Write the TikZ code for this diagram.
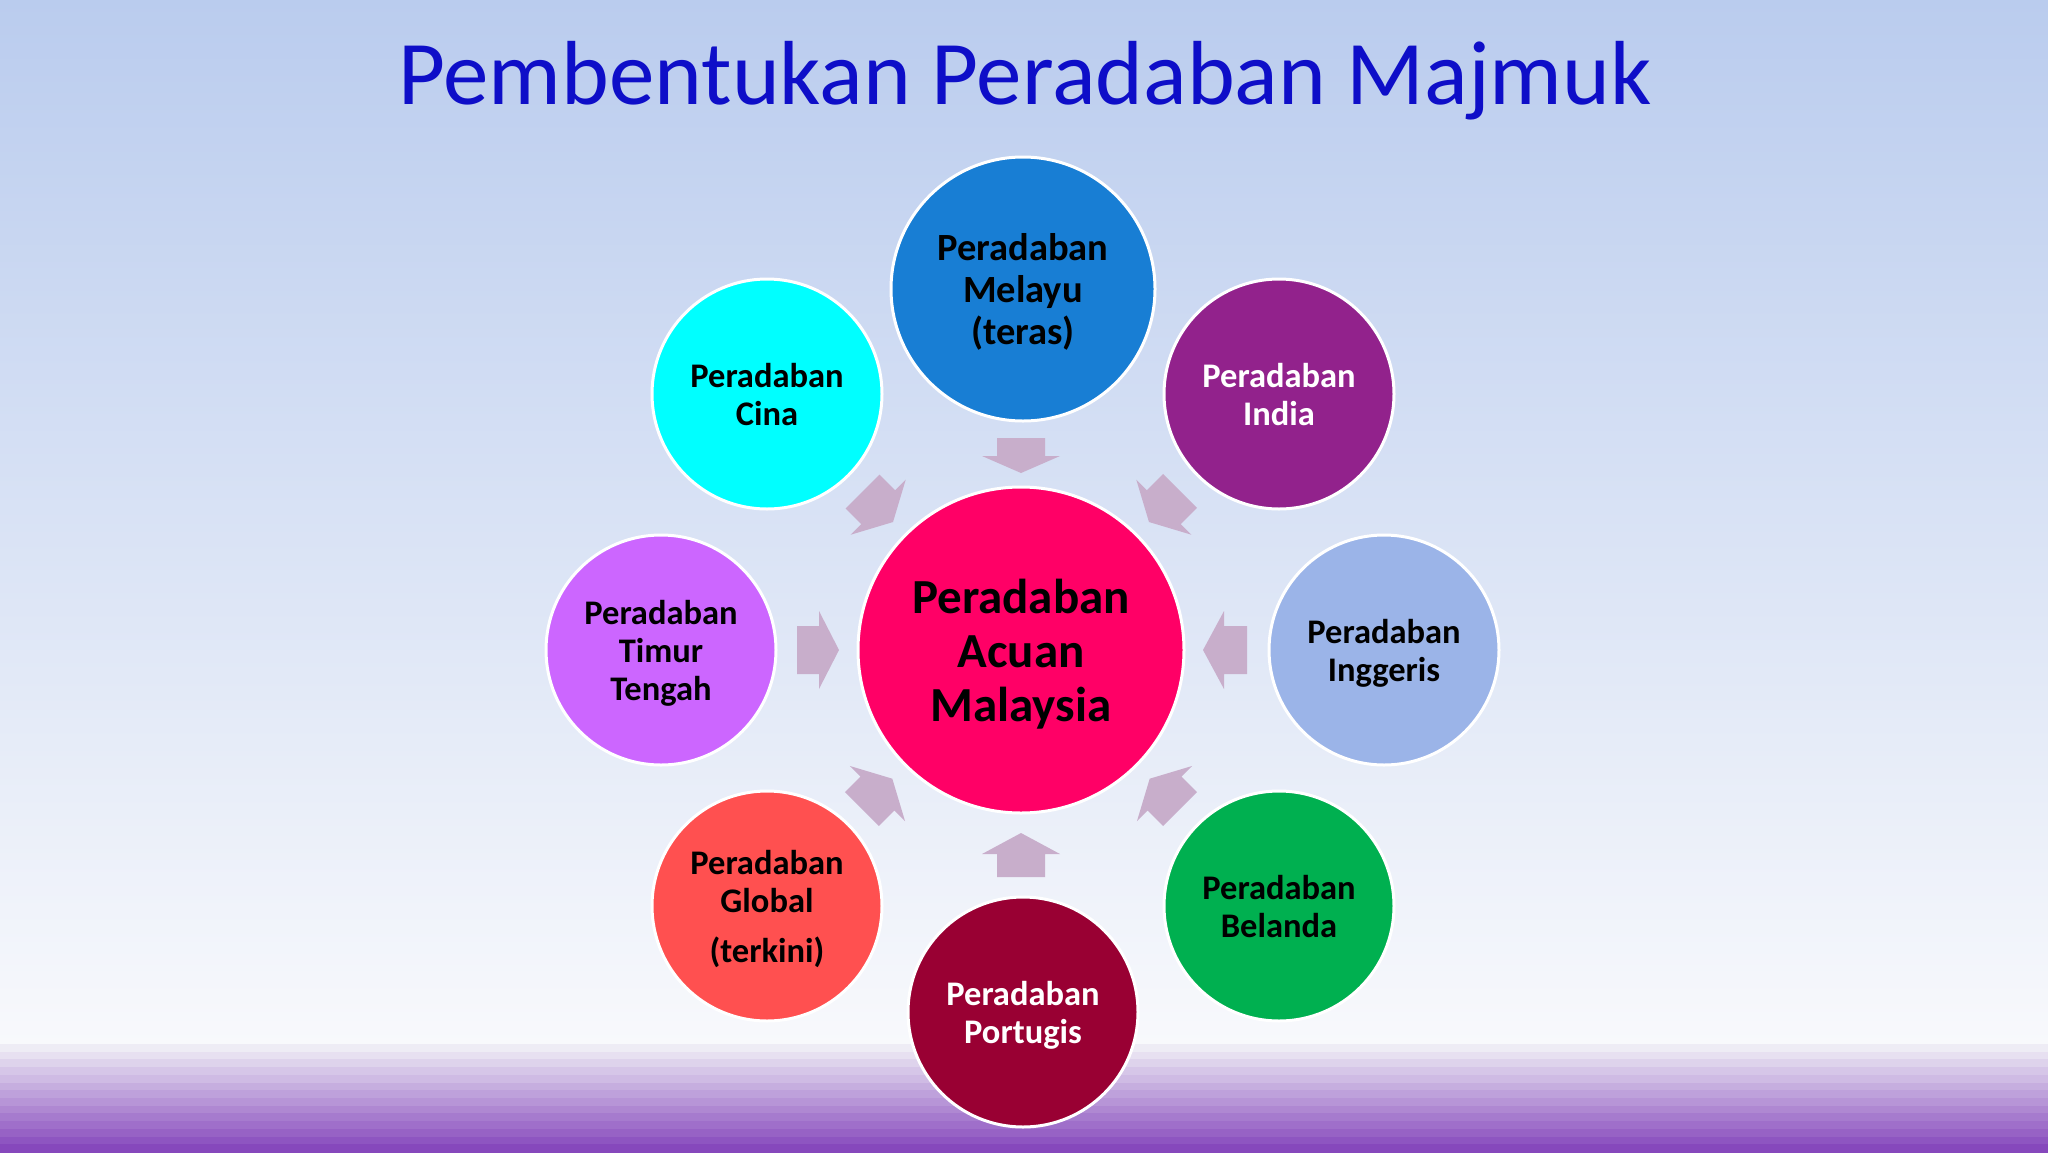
\documentclass[tikz,border=0pt]{standalone}
\usepackage{fontspec}
\setmainfont{Carlito}
\definecolor{bgtop}{RGB}{186,204,238}
\definecolor{bgmid}{RGB}{222,228,246}
\definecolor{bgbot}{RGB}{248,249,252}
\definecolor{bandstart}{RGB}{238,236,245}
\definecolor{bandend}{RGB}{134,72,188}
\definecolor{titleblue}{RGB}{14,14,200}
\definecolor{arrowcol}{RGB}{200,174,203}
\definecolor{cMelayu}{RGB}{24,126,212}
\definecolor{cCina}{RGB}{0,255,255}
\definecolor{cIndia}{RGB}{146,34,140}
\definecolor{cTimur}{RGB}{204,102,255}
\definecolor{cInggeris}{RGB}{155,180,232}
\definecolor{cGlobal}{RGB}{255,80,80}
\definecolor{cBelanda}{RGB}{0,176,80}
\definecolor{cPortugis}{RGB}{153,0,51}
\definecolor{cCenter}{RGB}{255,0,102}
\newcommand\lastline[1]{\raisebox{0pt}[\height][0pt]{#1}}
\tikzset{
  ring/.style={circle, draw=white, line width=3pt, minimum size=230pt, inner sep=0pt, align=center,
    font=\bfseries\fontsize{34.5}{38}\selectfont},
  bigring/.style={ring, minimum size=264pt, font=\bfseries\fontsize{38.5}{42}\selectfont},
  hub/.style={ring, minimum size=326pt, font=\bfseries\fontsize{49}{54}\selectfont},
  blockarrow/.style={fill=arrowcol, draw=none}
}
\begin{document}
\begin{tikzpicture}[x=1pt,y=-1pt]
\useasboundingbox (0,0) rectangle (2048,1152);
% background
\shade[top color=bgtop, middle color=bgmid, bottom color=bgbot] (0,0) rectangle (2048,1046);
\foreach \i in {0,...,13}{
  \pgfmathtruncatemacro\p{\i*100/13}
  \colorlet{stripecol}{bandend!\p!bandstart}
  \fill[stripecol] (0,{1044+\i*108/14}) rectangle (2048,{1044+(\i+1)*108/14+0.6});
}
% title
\node[font=\fontsize{91}{100}\selectfont, text=titleblue, inner sep=0pt] (title) at (1025,81) {Pembentukan Peradaban Majmuk};
% center
\node[hub, fill=cCenter, text=black] (C) at (1021,650) {Peradaban\\Acuan\\\lastline{Malaysia}};
% outer circles
\node[bigring, fill=cMelayu, text=black] (melayu) at (1023,289) {Peradaban\\Melayu\\\lastline{(teras)}};
\node[ring, fill=cCina, text=black] (cina) at (767,394) {Peradaban\\\lastline{Cina}};
\node[ring, fill=cIndia, text=white] (india) at (1279,394) {Peradaban\\\lastline{India}};
\node[ring, fill=cTimur, text=black] (timur) at (661,650) {Peradaban\\Timur\\\lastline{Tengah}};
\node[ring, fill=cInggeris, text=black] (inggeris) at (1384,650) {Peradaban\\\lastline{Inggeris}};
\node[ring, fill=cGlobal, text=black] (global) at (767,906) {Peradaban\\Global\\[12pt]\lastline{(terkini)}};
\node[ring, fill=cBelanda, text=black] (belanda) at (1279,906) {Peradaban\\\lastline{Belanda}};
\node[ring, fill=cPortugis, text=white] (portugis) at (1023,1012) {Peradaban\\\lastline{Portugis}};
% block arrows pointing to the center (angle / tail / head base / tip)
\foreach \a/\t/\b/\p in {0/226/203/182, 45/225/202/181, 90/212/194/177, 135/224/202/181,
                         180/224/202/182, 225/225/203/182, 270/227/204/183, 315/225/203/182}{
  \begin{scope}[shift={(C.center)}, rotate=\a]
    \fill[blockarrow] (\t,-24) -- (\b,-24) -- (\b,-39) -- (\p,0) -- (\b,39) -- (\b,24) -- (\t,24) -- cycle;
  \end{scope}
}
\end{tikzpicture}
\end{document}
